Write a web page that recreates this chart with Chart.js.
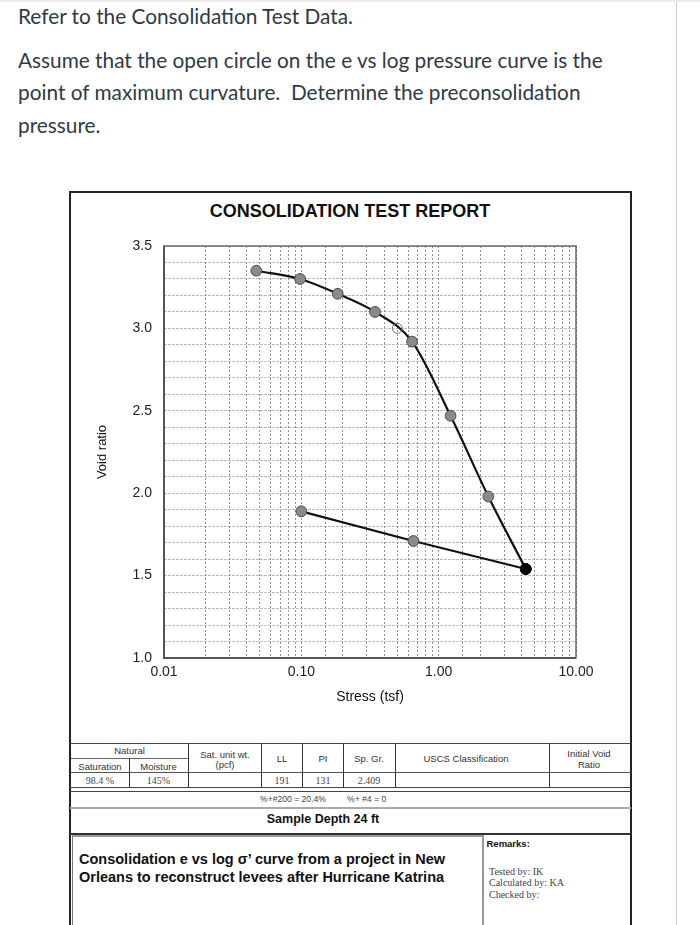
<!DOCTYPE html>
<html>
<head>
<meta charset="utf-8">
<script src="https://cdn.jsdelivr.net/npm/chart.js@4/dist/chart.umd.min.js"></script>
<style>
  html, body { margin:0; padding:0; background:#fff; width:700px; height:925px; overflow:hidden; position:relative; }
  .q { position:absolute; left:18px; font-family:Lato, "Open Sans", sans-serif; font-size:20.8px; line-height:32.5px; color:#2d3b45; margin:0; width:615px; }
  .ln { position:absolute; }
  .c { position:absolute; transform:translate(-50%,-50%); white-space:nowrap; line-height:1; font-family:"Liberation Sans", Arial, sans-serif; }
  .l { position:absolute; transform:translateY(-50%); white-space:nowrap; line-height:1; font-family:"Liberation Sans", Arial, sans-serif; }
  .hd { font-size:9.5px; color:#333; }
  .sv { font-family:"Liberation Serif", "Times New Roman", serif; font-size:10px; color:#444; }
  #wrap { position:absolute; left:70px; top:191px; width:561px; height:544px; }
</style>
</head>
<body>
<div class="ln" style="left:0;top:0;width:700px;height:2px;background:#ececec"></div>
<div class="ln" style="left:676px;top:2px;width:1px;height:923px;background:#c8cbce"></div>

<p class="q" style="top:0px">Refer to the Consolidation Test Data.</p>
<p class="q" style="top:43.75px">Assume that the open circle on the e vs log pressure curve is the point of maximum curvature.&nbsp; Determine the preconsolidation pressure.</p>

<!-- report box -->
<div class="ln" style="left:69px;top:191px;width:563px;height:2px;background:#222"></div>
<div class="ln" style="left:69px;top:191px;width:2px;height:734px;background:#222"></div>
<div class="ln" style="left:630px;top:191px;width:2px;height:734px;background:#222"></div>

<div class="c" style="left:350px;top:211px;font-size:18px;font-weight:bold;color:#111">CONSOLIDATION TEST REPORT</div>

<div id="wrap"><canvas id="chart" width="561" height="544"></canvas></div>

<!-- table lines -->
<div class="ln" style="left:70px;top:743px;width:561px;height:1px;background:#444"></div>
<div class="ln" style="left:71px;top:758px;width:117px;height:1px;background:#666"></div>
<div class="ln" style="left:70px;top:772px;width:561px;height:1px;background:#555"></div>
<div class="ln" style="left:70px;top:787px;width:561px;height:1px;background:#444"></div>
<div class="ln" style="left:70px;top:791px;width:561px;height:1px;background:#444"></div>
<div class="ln" style="left:70px;top:807px;width:561px;height:2px;background:#aaa"></div>
<div class="ln" style="left:70px;top:833px;width:561px;height:2px;background:#333"></div>
<div class="ln" style="left:72px;top:835px;width:411px;height:2px;background:#999"></div>
<div class="ln" style="left:72px;top:836px;width:1px;height:89px;background:#777"></div>
<div class="ln" style="left:482px;top:835px;width:2px;height:90px;background:#999"></div>

<div class="ln" style="left:129px;top:758px;width:1px;height:29px;background:#333"></div>
<div class="ln" style="left:188px;top:743px;width:1px;height:44px;background:#333"></div>
<div class="ln" style="left:261px;top:743px;width:1px;height:44px;background:#333"></div>
<div class="ln" style="left:302px;top:743px;width:1px;height:44px;background:#333"></div>
<div class="ln" style="left:343px;top:743px;width:1px;height:44px;background:#333"></div>
<div class="ln" style="left:395px;top:743px;width:1px;height:44px;background:#333"></div>
<div class="ln" style="left:549px;top:743px;width:1px;height:44px;background:#333"></div>

<!-- table text -->
<div class="c hd" style="left:129.5px;top:751px">Natural</div>
<div class="c hd" style="left:100px;top:766.5px">Saturation</div>
<div class="c hd" style="left:158.5px;top:766.5px">Moisture</div>
<div class="c hd" style="left:225px;top:754.5px">Sat. unit wt.</div>
<div class="c hd" style="left:225px;top:764.5px">(pcf)</div>
<div class="c hd" style="left:282px;top:759px">LL</div>
<div class="c hd" style="left:323px;top:759px">PI</div>
<div class="c hd" style="left:369px;top:759px">Sp. Gr.</div>
<div class="c hd" style="left:466px;top:759px">USCS Classification</div>
<div class="c hd" style="left:589px;top:753.5px">Initial Void</div>
<div class="c hd" style="left:589px;top:764.5px">Ratio</div>

<div class="c sv" style="left:100px;top:781px">98.4 %</div>
<div class="c sv" style="left:158.5px;top:781px">145%</div>
<div class="c sv" style="left:282px;top:781px">191</div>
<div class="c sv" style="left:323px;top:781px">131</div>
<div class="c sv" style="left:369px;top:781px">2.409</div>

<div class="l" style="left:260px;top:799px;font-size:8.6px;color:#444">%+#200 = 20.4%</div>
<div class="l" style="left:347px;top:799px;font-size:8.6px;color:#444">%+ #4 = 0</div>

<div class="c" style="left:323px;top:819px;font-size:12.5px;font-weight:bold;color:#111">Sample Depth 24 ft</div>

<div class="l" style="left:79px;top:859.3px;font-size:14.5px;font-weight:bold;color:#111">Consolidation e vs log σ’ curve from a project in New</div>
<div class="l" style="left:79px;top:876.7px;font-size:14.5px;font-weight:bold;color:#111">Orleans to reconstruct levees after Hurricane Katrina</div>

<div class="l" style="left:486.5px;top:844px;font-size:9.5px;font-weight:bold;color:#111">Remarks:</div>
<div class="l sv" style="left:489px;top:871.7px">Tested by: IK</div>
<div class="l sv" style="left:489px;top:883.2px">Calculated by: KA</div>
<div class="l sv" style="left:489px;top:894.7px">Checked by:</div>

<script>
// ---- data ----
const loadStress   = [0.047, 0.098, 0.184, 0.344, 0.64, 1.22, 2.30, 4.31]; // tsf
const loadVoid     = [3.35, 3.30, 3.21, 3.10, 2.92, 2.47, 1.98, 1.54];
const unloadStress = [4.31, 0.655, 0.10];
const unloadVoid   = [1.54, 1.71, 1.89];
const maxCurvStress = [0.50];
const maxCurvVoid   = [3.00];
const xTickLabels = ["0.01", "0.10", "1.00", "10.00"];
const yTickLabels = ["1.0", "1.5", "2.0", "2.5", "3.0", "3.5"];

const pts = (xs, ys) => xs.map((x, i) => ({ x: x, y: ys[i] }));
const GRAY = '#8a8a8a', EDGE = '#4a4a4a';

const boxPlugin = {
  id: 'plotBox',
  beforeDatasetsDraw(chart) {
    const { ctx, chartArea: a } = chart;
    ctx.save();
    ctx.strokeStyle = '#6a6a6a';
    ctx.lineWidth = 1.5;
    ctx.strokeRect(a.left, a.top, a.right - a.left, a.bottom - a.top);
    ctx.strokeStyle = '#555';
    ctx.lineWidth = 2;
    ctx.beginPath();
    ctx.moveTo(a.left, a.top);
    ctx.lineTo(a.left, a.bottom);
    ctx.lineTo(a.right, a.bottom);
    ctx.stroke();
    ctx.restore();
  }
};

const loadColors = loadStress.map((s, i) => i === loadStress.length - 1 ? '#000' : GRAY);
const unloadColors = unloadStress.map((s, i) => i === 0 ? '#000' : GRAY);

new Chart(document.getElementById('chart'), {
  type: 'line',
  data: {
    datasets: [
      {
        label: 'Max curvature',
        data: pts(maxCurvStress, maxCurvVoid),
        showLine: false,
        pointRadius: 5,
        pointBackgroundColor: 'rgba(0,0,0,0)',
        pointBorderColor: '#707070',
        pointBorderWidth: 1
      },
      {
        label: 'Loading',
        data: pts(loadStress, loadVoid),
        borderColor: '#111',
        borderWidth: 2.2,
        cubicInterpolationMode: 'monotone',
        pointRadius: 5.4,
        pointBackgroundColor: loadColors,
        pointBorderColor: loadStress.map((s, i) => i === loadStress.length - 1 ? '#000' : EDGE),
        pointBorderWidth: 1
      },
      {
        label: 'Unloading',
        data: pts(unloadStress, unloadVoid),
        borderColor: '#111',
        borderWidth: 2.2,
        tension: 0,
        pointRadius: 5.4,
        pointBackgroundColor: unloadColors,
        pointBorderColor: unloadStress.map((s, i) => i === 0 ? '#000' : EDGE),
        pointBorderWidth: 1
      }
    ]
  },
  options: {
    responsive: false,
    animation: false,
    devicePixelRatio: 1,
    layout: { padding: { top: 55, right: 55, left: 0, bottom: 0 } },
    plugins: { legend: { display: false }, tooltip: { enabled: false }, title: { display: false } },
    scales: {
      x: {
        type: 'logarithmic',
        min: 0.01,
        max: 10,
        afterFit(s) { s.height = 77; },
        border: { display: false, dash: [2, 2] },
        grid: { color: 'rgba(60,60,60,0.55)', lineWidth: 1, drawTicks: false },
        ticks: {
          autoSkip: false,
          maxRotation: 0,
          padding: 6,
          color: '#222',
          font: { family: '"Liberation Sans", Arial, sans-serif', size: 14 },
          callback(v) {
            const l = Math.log10(v);
            if (Math.abs(l - Math.round(l)) < 1e-9) {
              const s = Number(v).toFixed(2);
              return xTickLabels.includes(s) ? s : '';
            }
            return '';
          }
        },
        title: {
          display: true,
          text: 'Stress (tsf)',
          color: '#111',
          font: { family: '"Liberation Sans", Arial, sans-serif', size: 14 },
          padding: { top: 0, bottom: 29 }
        }
      },
      y: {
        type: 'linear',
        min: 1.0,
        max: 3.5,
        afterFit(s) { s.width = 94; },
        border: { display: false, dash: [3, 1] },
        grid: { color: 'rgba(120,120,120,0.5)', lineWidth: 1, drawTicks: false },
        ticks: {
          stepSize: 0.1,
          autoSkip: false,
          maxTicksLimit: 100,
          padding: 12,
          color: '#222',
          font: { family: '"Liberation Sans", Arial, sans-serif', size: 14 },
          callback(v) {
            const s = Number(v).toFixed(1);
            return (Math.abs(v * 2 - Math.round(v * 2)) < 1e-6 && yTickLabels.includes(s)) ? s : '';
          }
        },
        title: {
          display: true,
          text: 'Void ratio',
          color: '#111',
          font: { family: '"Liberation Sans", Arial, sans-serif', size: 13 },
          padding: { top: 25, bottom: 0 }
        }
      }
    }
  },
  plugins: [boxPlugin]
});
</script>
</body>
</html>
